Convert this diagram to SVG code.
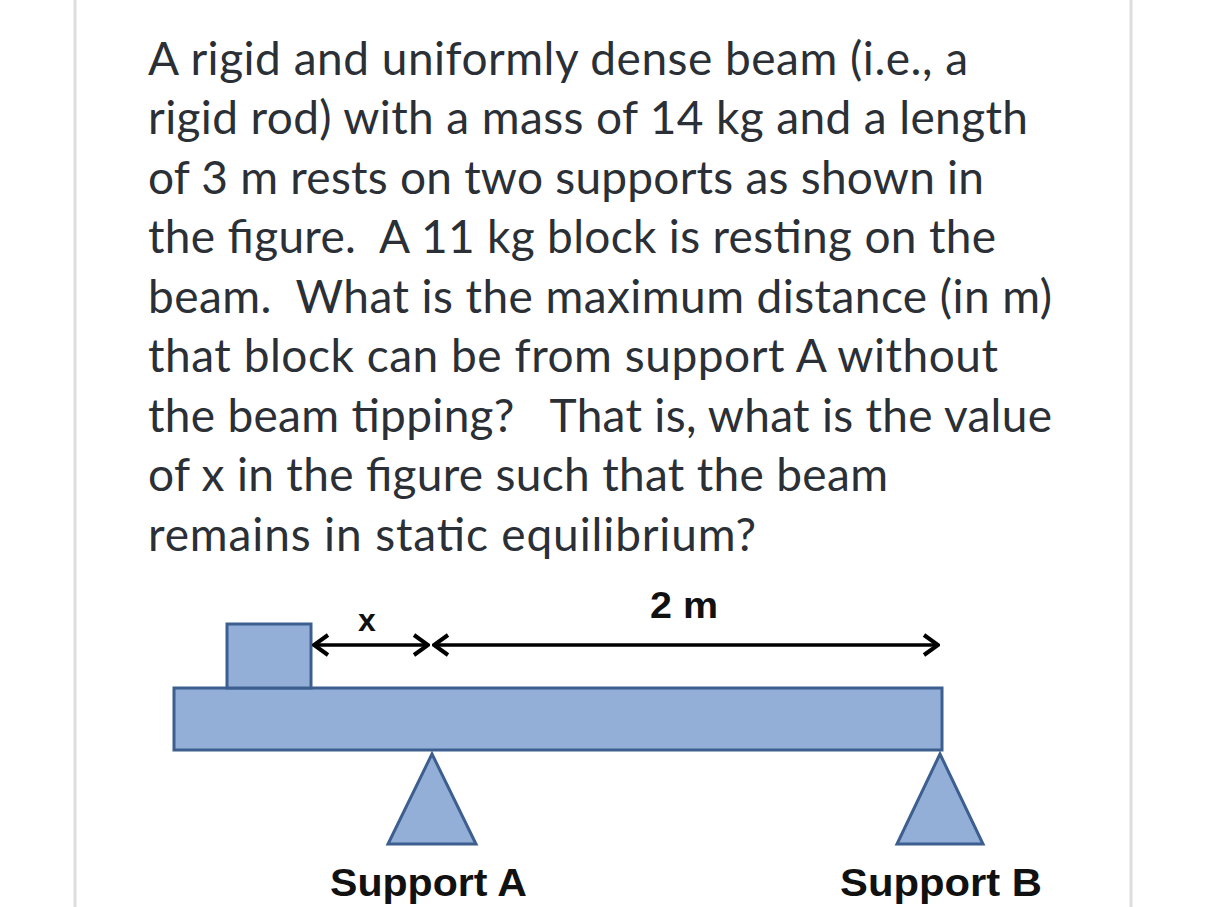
<svg xmlns="http://www.w3.org/2000/svg" width="1206" height="907" viewBox="0 0 1206 907">
<defs>
<style>
.q{font-family:Lato,"Open Sans",sans-serif;font-size:46px;fill:#2b2f36}
.l{font-family:"Liberation Sans",Arial,sans-serif;font-weight:bold;fill:#111}
.s{fill:#93afd8;stroke:#3d5f8f;stroke-width:3}
.a{stroke:#000;stroke-width:3.5;fill:none}
</style>
<marker id="h" viewBox="0 0 18 24" refX="16" refY="12" markerWidth="18" markerHeight="24" markerUnits="userSpaceOnUse" orient="auto-start-reverse"><path d="M2 2 L16 12 L2 22" fill="none" stroke="#000" stroke-width="4"/></marker>
</defs>
<rect width="1206" height="907" fill="#fff"/>
<line x1="75" y1="0" x2="75" y2="907" stroke="#ddd" stroke-width="3"/>
<line x1="1131" y1="0" x2="1131" y2="907" stroke="#ddd" stroke-width="3"/>
<g id="question" class="q">
<text x="148" y="75" textLength="820">A rigid and uniformly dense beam (i.e., a</text>
<text x="148" y="134" textLength="880">rigid rod) with a mass of 14 kg and a length</text>
<text x="148" y="194" textLength="836">of 3 m rests on two supports as shown in</text>
<text x="148" y="253" textLength="848">the ﬁgure.&#160; A 11 kg block is resting on the</text>
<text x="148" y="313" textLength="904">beam.&#160; What is the maximum distance (in m)</text>
<text x="148" y="372" textLength="850">that block can be from support A without</text>
<text x="148" y="432" textLength="904">the beam tipping?&#160;&#160; That is, what is the value</text>
<text x="148" y="491" textLength="740">of x in the ﬁgure such that the beam</text>
<text x="148" y="551" textLength="608">remains in static equilibrium?</text>
</g>
<g id="beam"><rect class="s" x="174" y="688" width="768" height="62"/></g>
<g id="block"><rect class="s" x="227" y="624" width="84" height="64"/></g>
<g id="supportA"><polygon class="s" points="432,754 388,844 476,844"/><text class="l" x="330" y="896" font-size="38" textLength="197" lengthAdjust="spacingAndGlyphs">Support A</text></g>
<g id="supportB"><polygon class="s" points="940,754 897,844 983,844"/><text class="l" x="840" y="896" font-size="38" textLength="202" lengthAdjust="spacingAndGlyphs">Support B</text></g>
<g id="connectors">
<line class="a" x1="314" y1="645" x2="428" y2="645" marker-start="url(#h)" marker-end="url(#h)"/>
<line class="a" x1="434" y1="645" x2="938" y2="645" marker-start="url(#h)" marker-end="url(#h)"/>
</g>
<text class="l" x="367" y="631" font-size="32" text-anchor="middle">x</text>
<text class="l" x="650" y="618" font-size="36" textLength="68" lengthAdjust="spacingAndGlyphs">2 m</text>
</svg>
